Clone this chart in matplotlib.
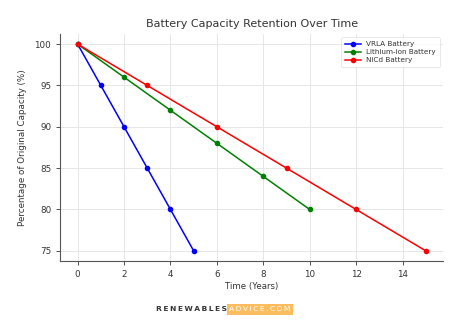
import matplotlib
matplotlib.use('Agg')
import matplotlib.pyplot as plt

# data
vrla_years = [0, 1, 2, 3, 4, 5]
vrla_capacity = [100, 95, 90, 85, 80, 75]
li_years = [0, 2, 4, 6, 8, 10]
li_capacity = [100, 96, 92, 88, 84, 80]
nicd_years = [0, 3, 6, 9, 12, 15]
nicd_capacity = [100, 95, 90, 85, 80, 75]

TEXT = '#333333'

fig = plt.figure(figsize=(4.74, 3.31), dpi=100)
ax = fig.add_axes([0.127, 0.211, 0.808, 0.687])

ax.plot(vrla_years, vrla_capacity, marker='o', markersize=3, linewidth=1.1, color='blue', label='VRLA Battery')
ax.plot(li_years, li_capacity, marker='o', markersize=3, linewidth=1.1, color='green', label='Lithium-ion Battery')
ax.plot(nicd_years, nicd_capacity, marker='o', markersize=3, linewidth=1.1, color='red', label='NiCd Battery')

ax.set_title('Battery Capacity Retention Over Time', fontsize=8, color=TEXT, pad=5)
ax.set_xlabel('Time (Years)', fontsize=6.2, color=TEXT, labelpad=2)
ax.set_ylabel('Percentage of Original Capacity (%)', fontsize=6.3, color=TEXT, labelpad=5)

ax.set_xticks([0, 2, 4, 6, 8, 10, 12, 14])
ax.set_yticks([75, 80, 85, 90, 95, 100])
ax.tick_params(labelsize=6.3, colors=TEXT, length=3, width=0.6)
ax.grid(True, color='#e6e6e6', linewidth=0.7)
ax.set_axisbelow(True)
for side in ['top', 'right']:
    ax.spines[side].set_visible(False)
for side in ['left', 'bottom']:
    ax.spines[side].set_color('#555555')
    ax.spines[side].set_linewidth(0.8)

leg = ax.legend(loc='upper right', fontsize=5.2, frameon=True, borderpad=0.5,
                handlelength=2.2, labelspacing=0.3)
leg.get_frame().set_edgecolor('#dddddd')
leg.get_frame().set_linewidth(0.6)
for t in leg.get_texts():
    t.set_color(TEXT)

# watermark
sp = '\u2009'
fig.text(0.479, 0.065, sp.join('RENEWABLES'), fontsize=5.4, color='#333333',
         ha='right', va='center', fontweight='bold')
fig.text(0.484, 0.065, sp.join('ADVICE.COM'), fontsize=5.4, color='white',
         ha='left', va='center',
         bbox=dict(boxstyle='square,pad=0.3', facecolor='#fdbd5e', edgecolor='none'))

fig.savefig('out.png', dpi=100)
